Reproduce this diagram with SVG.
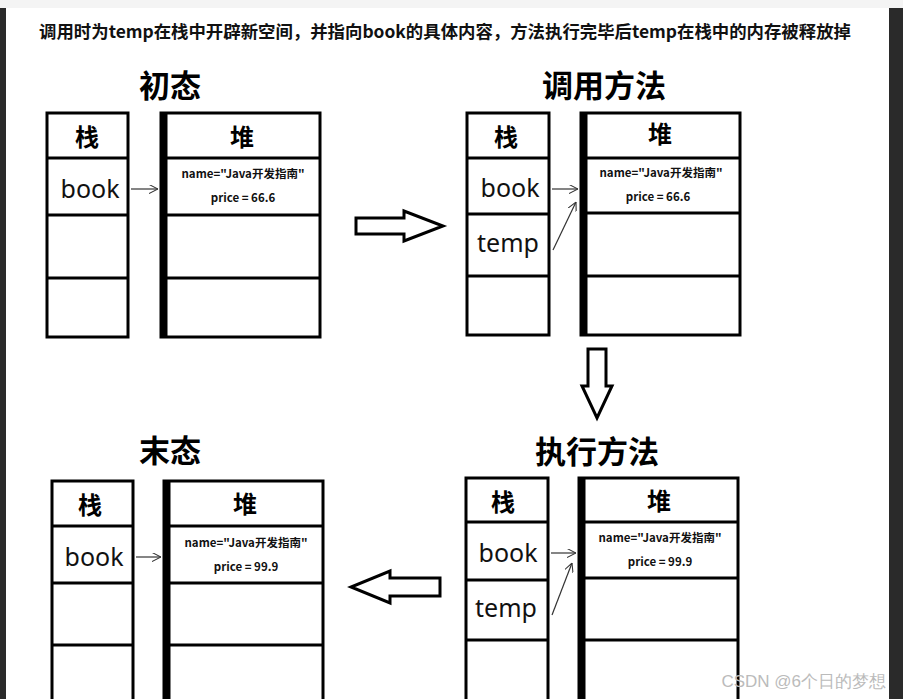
<svg xmlns="http://www.w3.org/2000/svg" width="903" height="699" viewBox="0 0 903 699">
<style>
.t{font-family:"Noto Sans CJK SC","Noto Sans",sans-serif;fill:#111}
.b{stroke:#000;stroke-width:3;fill:#fff}
.r{stroke:#000;stroke-width:3;fill:none}
.hl{stroke:#000;stroke-width:7}
.v{font-family:"Noto Sans","Noto Sans CJK SC",sans-serif;font-size:25px;fill:#111}
.h{font-family:"Noto Sans CJK SC",sans-serif;font-size:24px;font-weight:bold;fill:#000}
.s{font-family:"Noto Sans CJK SC",sans-serif;font-size:11.5px;font-weight:bold;fill:#111}
.ti{font-family:"Noto Sans CJK SC",sans-serif;font-size:31px;font-weight:bold;fill:#000}
.c{stroke:#333;stroke-width:1.2;fill:none}
.big{stroke:#000;stroke-width:3;fill:#fff}
</style>
<defs>
<marker id="a" viewBox="0 0 10 10" refX="10" refY="5" markerWidth="9" markerHeight="9" markerUnits="userSpaceOnUse" orient="auto"><path d="M0,0 L10,5 L0,10" fill="none" stroke="#333" stroke-width="1.2"/></marker>
</defs>
<rect width="903" height="699" fill="#2a2a2a"/>
<rect x="0" y="0" width="903" height="8" fill="#f4f4f4"/>
<rect x="6" y="8" width="883" height="691" fill="#fff"/>
<text class="t" x="445" y="38" font-size="17.4" font-weight="bold" text-anchor="middle">调用时为temp在栈中开辟新空间，并指向book的具体内容，方法执行完毕后temp在栈中的内存被释放掉</text>

<g id="panel-initial">
<text class="ti" x="170" y="97" text-anchor="middle">初态</text>
<rect class="b" x="47" y="113" width="81" height="224"/>
<path class="r" d="M47,158H128M47,215H128M47,278H128"/>
<text class="h" x="87" y="146" text-anchor="middle">栈</text>
<text class="v" x="90" y="198" text-anchor="middle">book</text>
<rect class="b" x="161" y="113" width="159" height="224"/>
<line class="hl" x1="164" y1="113" x2="164" y2="337"/>
<path class="r" d="M161,158H320M161,215H320M161,278H320"/>
<text class="h" x="242" y="146" text-anchor="middle">堆</text>
<text class="s" x="243" y="178" text-anchor="middle">name="Java开发指南"</text>
<text class="s" x="243" y="202" text-anchor="middle">price = 66.6</text>
</g>

<g id="panel-call">
<text class="ti" x="604" y="97" text-anchor="middle">调用方法</text>
<rect class="b" x="467" y="113" width="82" height="222"/>
<path class="r" d="M467,158H549M467,214H549M467,276H549"/>
<text class="h" x="506" y="146" text-anchor="middle">栈</text>
<text class="v" x="510" y="197" text-anchor="middle">book</text>
<text class="v" x="508" y="252" text-anchor="middle">temp</text>
<rect class="b" x="581" y="113" width="159" height="222"/>
<line class="hl" x1="584" y1="113" x2="584" y2="335"/>
<path class="r" d="M581,158H740M581,213H740M581,276H740"/>
<text class="h" x="660" y="143" text-anchor="middle">堆</text>
<text class="s" x="661" y="177" text-anchor="middle">name="Java开发指南"</text>
<text class="s" x="658" y="201" text-anchor="middle">price = 66.6</text>
</g>

<g id="panel-exec">
<text class="ti" x="597" y="463" text-anchor="middle">执行方法</text>
<rect class="b" x="466" y="478" width="82" height="225"/>
<path class="r" d="M466,522H548M466,580H548M466,640H548"/>
<text class="h" x="503" y="511" text-anchor="middle">栈</text>
<text class="v" x="508" y="562" text-anchor="middle">book</text>
<text class="v" x="506" y="617" text-anchor="middle">temp</text>
<rect class="b" x="579" y="478" width="159" height="225"/>
<line class="hl" x1="582" y1="478" x2="582" y2="703"/>
<path class="r" d="M579,522H738M579,578H738M579,640H738"/>
<text class="h" x="659" y="510" text-anchor="middle">堆</text>
<text class="s" x="660" y="542" text-anchor="middle">name="Java开发指南"</text>
<text class="s" x="660" y="566" text-anchor="middle">price = 99.9</text>
</g>

<g id="panel-final">
<text class="ti" x="170" y="462" text-anchor="middle">末态</text>
<rect class="b" x="52" y="481" width="81" height="222"/>
<path class="r" d="M52,526H133M52,583H133M52,645H133"/>
<text class="h" x="90" y="514" text-anchor="middle">栈</text>
<text class="v" x="94" y="566" text-anchor="middle">book</text>
<rect class="b" x="164" y="481" width="159" height="222"/>
<line class="hl" x1="167" y1="481" x2="167" y2="703"/>
<path class="r" d="M164,526H323M164,583H323M164,645H323"/>
<text class="h" x="245" y="513" text-anchor="middle">堆</text>
<text class="s" x="246" y="547" text-anchor="middle">name="Java开发指南"</text>
<text class="s" x="246" y="571" text-anchor="middle">price = 99.9</text>
</g>

<g id="connectors">
<line class="c" x1="131" y1="189" x2="158" y2="189" marker-end="url(#a)"/>
<line class="c" x1="552" y1="189" x2="578" y2="189" marker-end="url(#a)"/>
<line class="c" x1="553" y1="250" x2="576" y2="202" marker-end="url(#a)"/>
<line class="c" x1="551" y1="553" x2="576" y2="553" marker-end="url(#a)"/>
<line class="c" x1="552" y1="615" x2="572" y2="563" marker-end="url(#a)"/>
<line class="c" x1="136" y1="557" x2="161" y2="557" marker-end="url(#a)"/>
<path class="big" d="M356,218H404V211L443,226L404,241V234H356Z"/>
<path class="big" d="M588,349H606V386H612L597,418L582,386H588Z"/>
<path class="big" d="M440,578H390V571L351,587L390,603V596H440Z"/>
</g>
<text x="886" y="687" font-family="Liberation Sans,sans-serif" font-size="17" fill="#bbb" text-anchor="end">CSDN @6个日的梦想</text>
</svg>
